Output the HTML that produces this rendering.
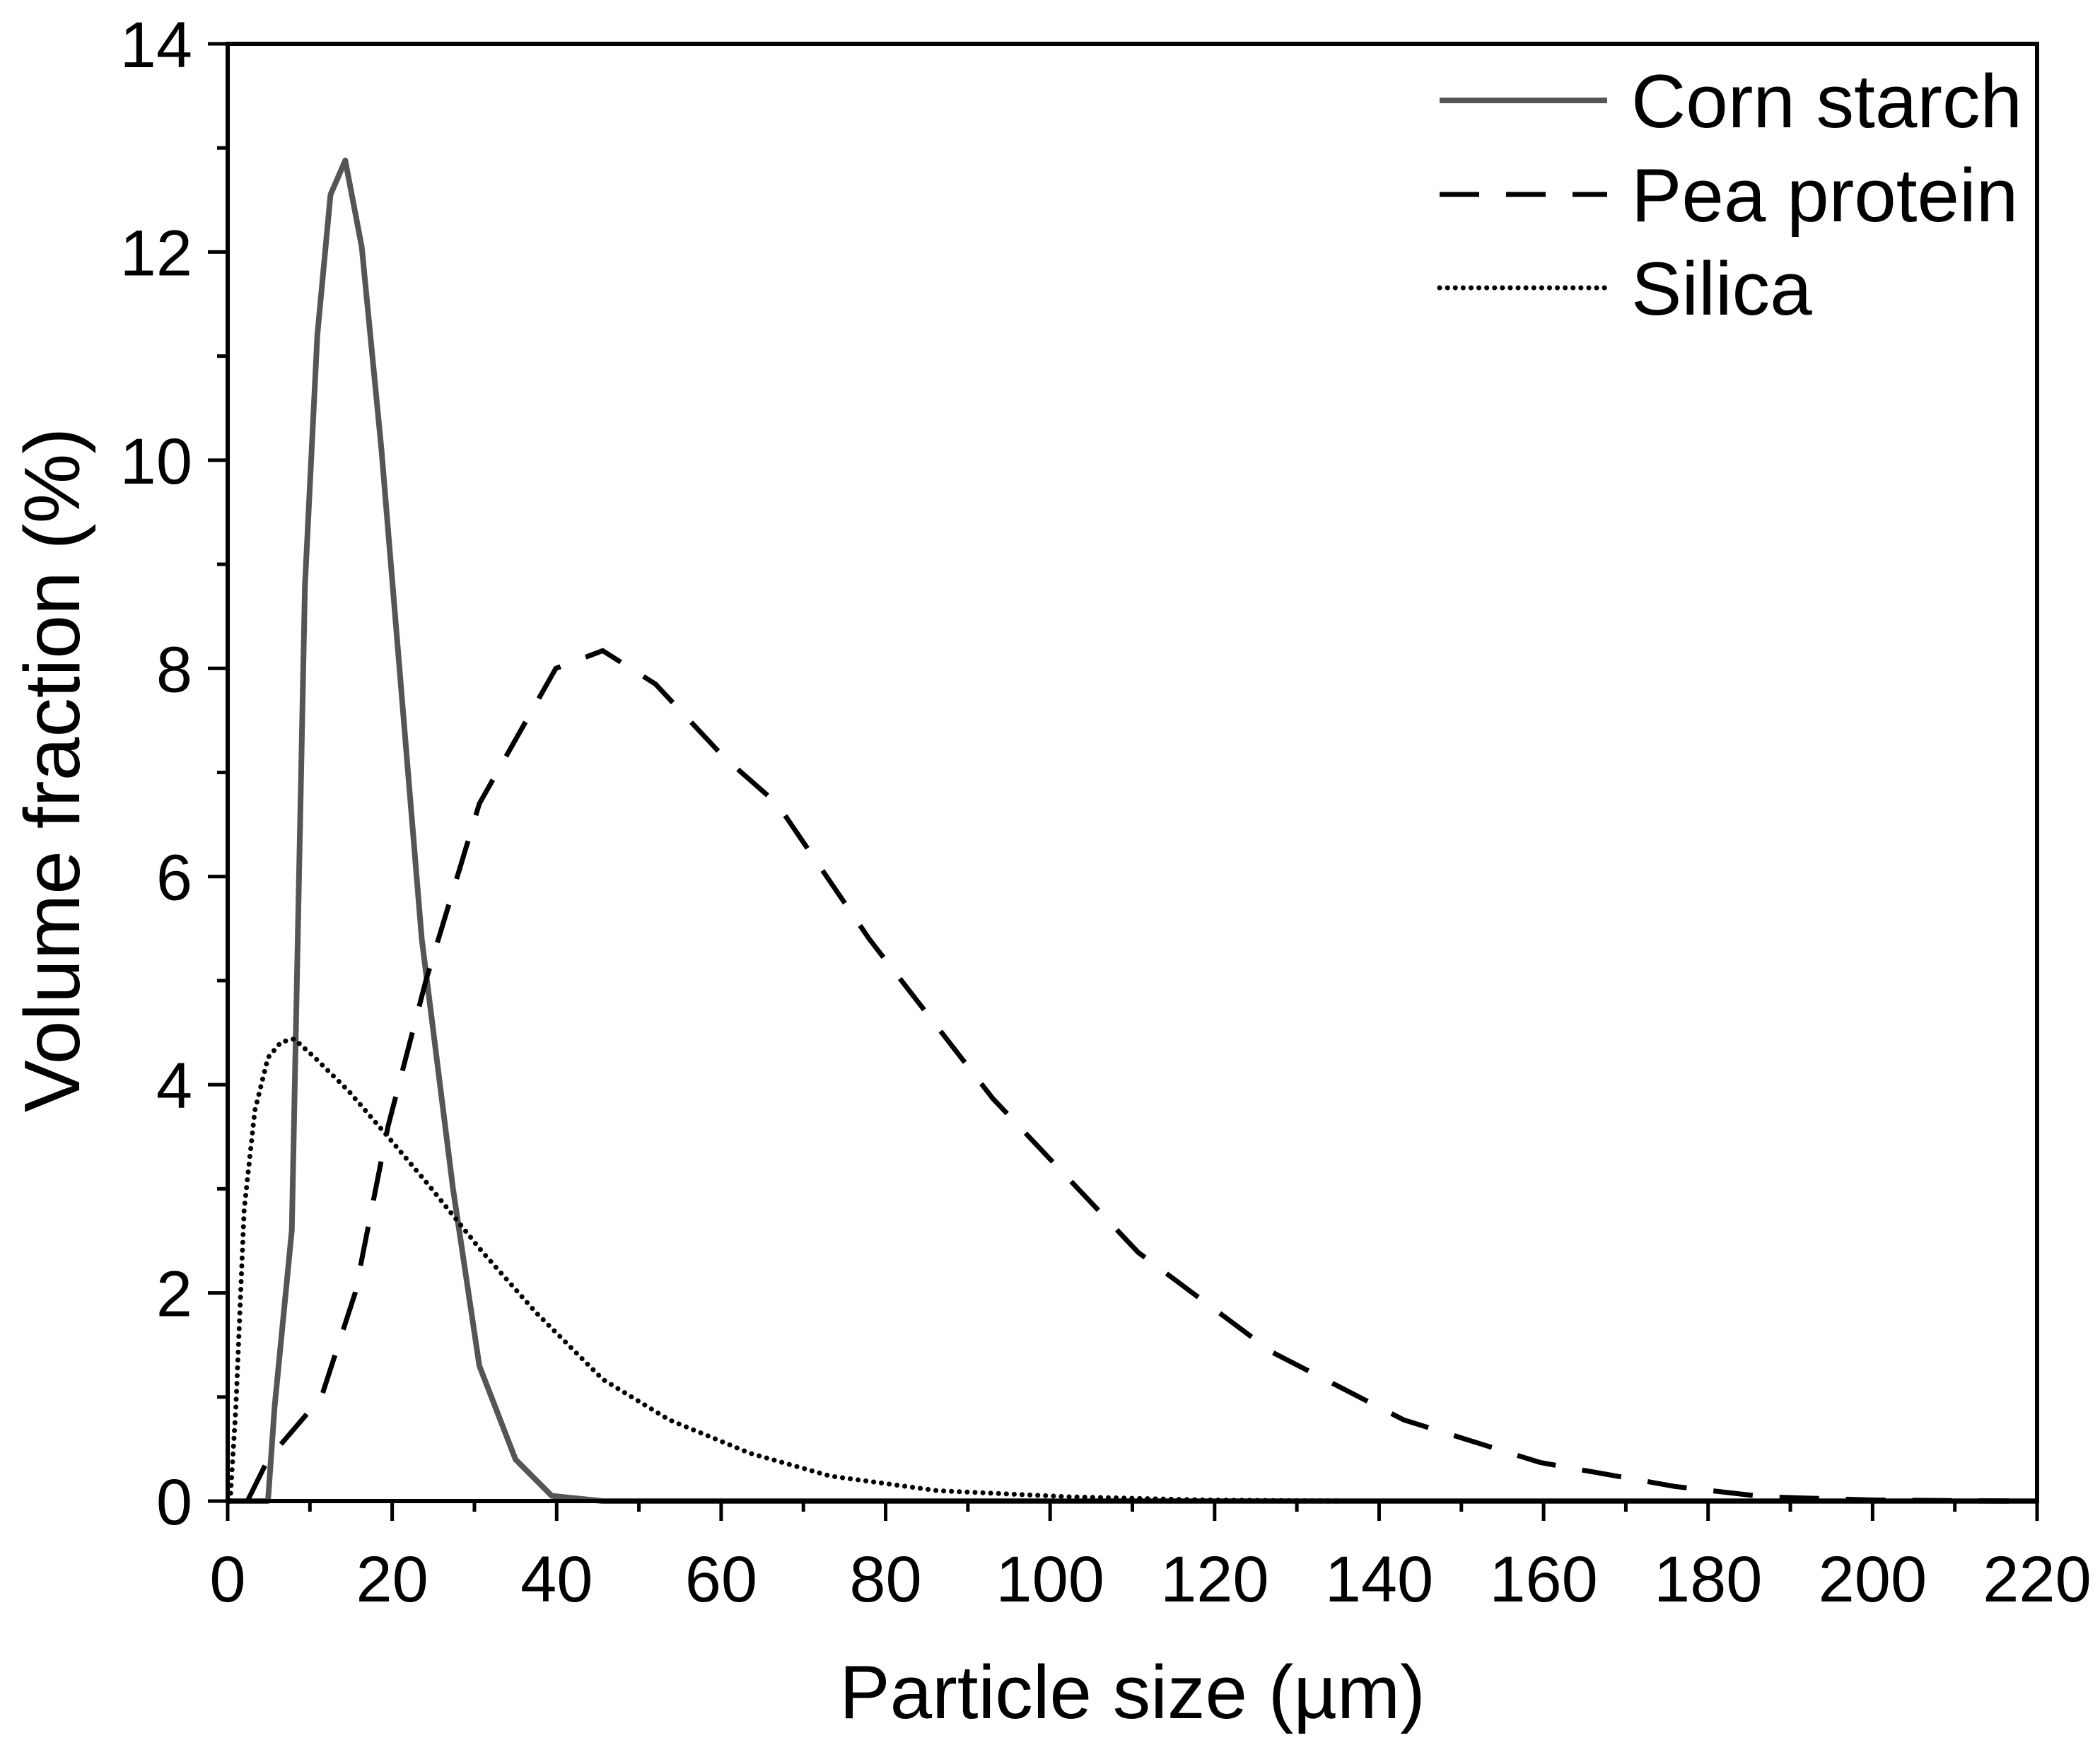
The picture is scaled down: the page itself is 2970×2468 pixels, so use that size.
<!DOCTYPE html>
<html><head><meta charset="utf-8"><style>
html,body{margin:0;padding:0;background:#fff;}
svg{display:block;font-family:"Liberation Sans",Arial,sans-serif;}
</style></head><body>
<svg id="chart" width="2970" height="2468" viewBox="0 0 2970 2468" xmlns="http://www.w3.org/2000/svg">
<rect width="2970" height="2468" fill="#fff"/>
<g id="series"></g>
<g id="axes"></g>
</svg>
<script>
const xTicks=[0,20,40,60,80,100,120,140,160,180,200,220];
const yTicks=[0,2,4,6,8,10,12,14];
const cornX=[0,4.9,5.7,7.8,9.4,10.9,12.5,14.3,16.3,18.7,21.2,23.6,27.4,30.6,35,39.4,45.6,220];
const cornY=[0,0,0.9,2.6,8.8,11.2,12.55,12.88,12.05,10.1,7.7,5.4,3.0,1.3,0.4,0.05,0,0];
const peaX=[2.4,4.9,11.4,15.5,19.5,24.1,30.6,39.9,45.6,52,60.3,66.8,78,93,110.7,127,143,159.6,176,187,200,216.6];
const peaY=[0,0.4,1.0,2.0,3.6,5.0,6.7,8.0,8.17,7.85,7.15,6.7,5.4,3.87,2.39,1.43,0.78,0.37,0.14,0.04,0.01,0];
const silX=[0.3,1,2,3.3,4.9,6.5,8.1,10.6,14.7,19.5,24.4,30.9,37.5,45.6,53.7,63.5,73.3,86.3,102.6,119,135];
const silY=[0,0.9,2.8,3.75,4.26,4.41,4.44,4.26,3.94,3.5,3.04,2.4,1.81,1.17,0.78,0.46,0.24,0.1,0.04,0.01,0];

const L=322,R=2881,T=62,B=2123;
const xMin=0,xMax=220,yMin=0,yMax=14;
function sx(v){return L+(v-xMin)/(xMax-xMin)*(R-L);}
function sy(v){return B-(v-yMin)/(yMax-yMin)*(B-T);}
const NS="http://www.w3.org/2000/svg";
function mk(tag,attrs,parent,text){const e=document.createElementNS(NS,tag);for(const k in attrs)e.setAttribute(k,attrs[k]);if(text!==undefined)e.textContent=text;parent.appendChild(e);return e;}
const series=document.getElementById('series'),axes=document.getElementById('axes');
function path(xs,ys){return xs.map((x,i)=>(i?'L':'M')+sx(x).toFixed(1)+' '+sy(ys[i]).toFixed(1)).join(' ');}

const cornStyle={stroke:'#555','stroke-width':8,'stroke-linejoin':'round'};
const peaStyle={stroke:'#000','stroke-width':7,'stroke-dasharray':'56 38'};
const silStyle={stroke:'#000','stroke-width':7,'stroke-dasharray':'0.1 11','stroke-linecap':'round'};

let p=mk('path',Object.assign({d:path(cornX,cornY),fill:'none'},cornStyle),series);


p=mk('path',Object.assign({d:path(peaX,peaY),fill:'none'},peaStyle),series);


p=mk('path',Object.assign({d:path(silX,silY),fill:'none'},silStyle),series);



let f=mk('rect',{x:L,y:T,width:R-L,height:B-T,fill:'none',stroke:'#000','stroke-width':6},axes);


for(let v=0;v<=220;v+=10){const major=v%20===0;const t=mk('line',{x1:sx(v),x2:sx(v),y1:B,y2:B+(major?28:15),stroke:'#000','stroke-width':5},axes);

}
xTicks.forEach(v=>{const t=mk('text',{x:sx(v),y:2265,'font-size':92,'text-anchor':'middle'},axes,String(v));

});
for(let v=0;v<=14;v+=1){const major=v%2===0;const t=mk('line',{x1:L-(major?28:15),x2:L,y1:sy(v),y2:sy(v),stroke:'#000','stroke-width':5},axes);

}
yTicks.forEach(v=>{const t=mk('text',{x:272,y:sy(v)+33,'font-size':92,'text-anchor':'end'},axes,String(v));

});
let xt=mk('text',{x:(L+R)/2,y:2430,'font-size':107,'text-anchor':'middle'},axes,'Particle size (µm)');


let yt=mk('text',{x:0,y:0,'font-size':111,'text-anchor':'middle',transform:'translate(112,1089) rotate(-90)'},axes,'Volume fraction (%)');


const legNames=['Corn starch','Pea protein','Silica'];
const legY=[142,275,407];
const legStyle=[cornStyle,peaStyle,silStyle];
legNames.forEach((n,i)=>{const g=mk('g',{},axes);


mk('line',Object.assign({x1:2036,x2:2273,y1:legY[i],y2:legY[i]},legStyle[i]),g);
mk('text',{x:2307,y:legY[i]+38,'font-size':107},g,n);});
</script>
</body></html>
